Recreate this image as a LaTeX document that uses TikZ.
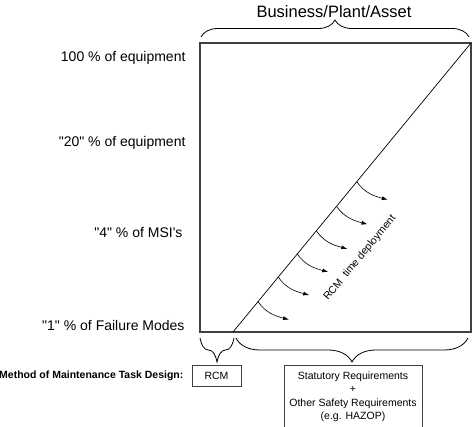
\documentclass[tikz,border=0pt]{standalone}
\usepackage{fontspec}
\setmainfont{Liberation Sans}
\usetikzlibrary{positioning, calc, arrows.meta, decorations.pathreplacing}
\tikzset{
x=1pt, y=1pt, % one unit is one pixel of the figure
frame/.style={draw=black!75, line width=1.1pt}, % the big square
levellabel/.style={anchor=east, font=\fontsize{14}{16}\selectfont}, % labels left of the square
textbox/.style={draw=black!75, line width=0.8pt, align=center, font=\fontsize{10.5}{13.5}\selectfont},
bracedown/.style={decorate, decoration={brace, mirror, amplitude=#1}, line width=0.8pt},
bracedown/.default=24,
rcmarrow/.style={-{Latex[length=6pt, width=4pt]}, line width=0.6pt}, % small curved arrows
}

\begin{document}
\begin{tikzpicture}
\useasboundingbox (0,0) rectangle (474,-426);
% square and diagonal
\draw[frame] (200,-43) rectangle (471,-332);
\coordinate (low) at (233,-332);
\coordinate (high) at (471,-43);
\draw[line width=0.7pt] (low) -- (high);

% braces
\draw[decorate, decoration={brace, amplitude=17}, line width=0.8pt] (201,-37) -- (469,-37);
\node[font=\fontsize{16.5}{18}\selectfont] (asset) at (334,-12) {Business/Plant/Asset};
\draw[bracedown] (200,-338) -- (234,-338);
\draw[bracedown] (236,-338) -- (468,-338);

% levels
\node[levellabel] (all) at (189,-58) {100 \% of equipment};
\node[levellabel] (twenty) at (189,-143) {\textquotedbl 20\textquotedbl{} \% of equipment};
\node[levellabel] (msi) at (186,-232) {\textquotedbl 4\textquotedbl{} \% of MSI\textquotesingle s};
\node[levellabel] (modes) at (188,-325) {\textquotedbl 1\textquotedbl{} \% of Failure Modes};

% deployment arrows
\foreach \t [count=\i] in {0.105,0.19,0.27,0.35,0.435,0.52}{
  \coordinate (s\i) at ($(low)!\t!(high)$);
  \coordinate (e\i) at ($(s\i)+(31,-18)$);
  \draw[rcmarrow] (s\i) to[out=-55, in=165] (e\i);
}
\node[rotate=50.5, font=\fontsize{10.5}{12}\selectfont] (deploy) at (360,-258) {RCM\ \ time deployment};

% methods
\node[textbox, minimum width=49, minimum height=21] (rcm) at (216.5,-375.5) {RCM};
\node[textbox, minimum width=138, inner ysep=6, anchor=north] (statutory) at (353,-365) {Statutory Requirements\\+\\Other Safety Requirements\\(e.g. HAZOP)};
\node[left=8 of rcm, font=\bfseries\fontsize{10.5}{12}\selectfont, inner sep=0] (method) {Method of Maintenance Task Design:};
\end{tikzpicture}
\end{document}
